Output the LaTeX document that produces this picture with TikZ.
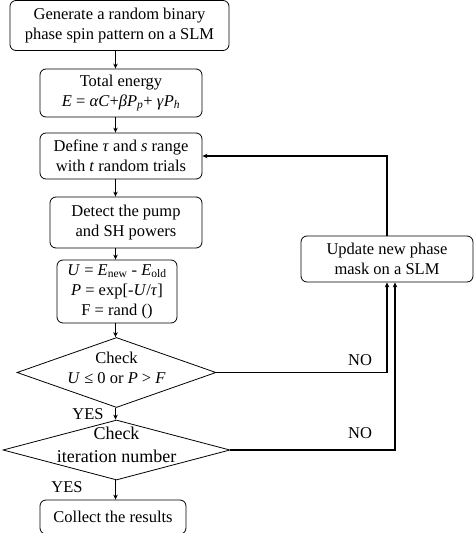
\documentclass[tikz,border=0pt]{standalone}
\usepackage{amsmath}
\usepackage{fontspec}
\setmainfont{Liberation Serif}
\usetikzlibrary{arrows, arrows.meta}
\usetikzlibrary{shapes.geometric, positioning}
\newcommand{\vi}[1]{\textit{#1}}

\begin{document}
\begin{tikzpicture}[x=1pt,y=1pt,
  box/.style={draw, rounded corners=6pt, line width=0.8pt, align=center, inner sep=0pt},
  dia/.style={draw, diamond, line width=0.8pt, inner sep=0pt},
  flow/.style={line width=1.3pt, -{Stealth[length=5pt,width=4.5pt]}}]
\tikzstyle{every node}+=[font=\fontsize{16.5}{20}\selectfont]
\clip (0,0) rectangle (474,-533);
\coordinate (ax) at (115.5,0);
% main column
\node[box, minimum width=219, minimum height=50] (gen) at (119.5,-25.5) {Generate a random binary\\phase spin pattern on a SLM};
\node[box, minimum width=162, minimum height=48] (nrg) at (121,-93) {Total energy\\\vi{E} = \vi{α}\vi{C}+\vi{β}\vi{P}$_{\text{\itshape p}}$+ \vi{γ}\vi{P}$_{\text{\itshape h}}$};
\node[box, minimum width=162, minimum height=46] (def) at (121,-156) {Define \vi{τ} and \vi{s} range\\with \vi{t} random trials};
\node[box, minimum width=152, minimum height=51] (det) at (126,-222.5) {Detect the pump\\and SH powers};
\node[box, minimum width=120, minimum height=63] (acc) at (117,-291.5) {\vi{U} = \vi{E}$_{\text{new}}$ - \vi{E}$_{\text{old}}$\\\vi{P} = exp[-\vi{U}/\vi{τ}]\\F = rand ()};
\node[dia, minimum width=199, minimum height=70] (chk1) at (116.5,-372.5) {};
\node[align=center] (chk1txt) at ([yshift=5]chk1.center) {Check\\\vi{U} ≤ 0 or \vi{P} > \vi{F}};
\node[dia, minimum width=227, minimum height=60] (chk2) at (116.5,-450) {};
\node[align=center, font=\fontsize{18}{23}\selectfont] (chk2txt) at ([yshift=5.5]chk2.center) {Check\\iteration number};
\node[box, minimum width=146, minimum height=34] (res) at (113,-517) {Collect the results};
% side box
\node[box, minimum width=172, minimum height=46] (upd) at (387,-259) {Update new phase\\mask on a SLM};
% labels
\node (yes1) at (88,-414) {YES};
\node (yes2) at (67,-487) {YES};
\node (no1) at (360,-360) {NO};
\node (no2) at (360,-433) {NO};
% arrows
\draw[flow] (gen.south -| ax) -- (nrg.north -| ax);
\draw[flow] (nrg.south -| ax) -- (def.north -| ax);
\draw[flow] (def.south -| ax) -- (det.north -| ax);
\draw[flow] (det.south -| ax) -- (acc.north -| ax);
\draw[flow] (acc.south -| ax) -- (chk1.north -| ax);
\draw[flow] (chk1.south -| ax) -- (chk2.north -| ax);
\draw[flow] (chk2.south -| ax) -- (res.north -| ax);
\draw[flow] (upd.north) |- (def.east);
\draw[flow] (chk1.east) -| (upd.south);
\draw[flow] (chk2.east) -| ([xshift=8]upd.south);
\end{tikzpicture}
\end{document}
